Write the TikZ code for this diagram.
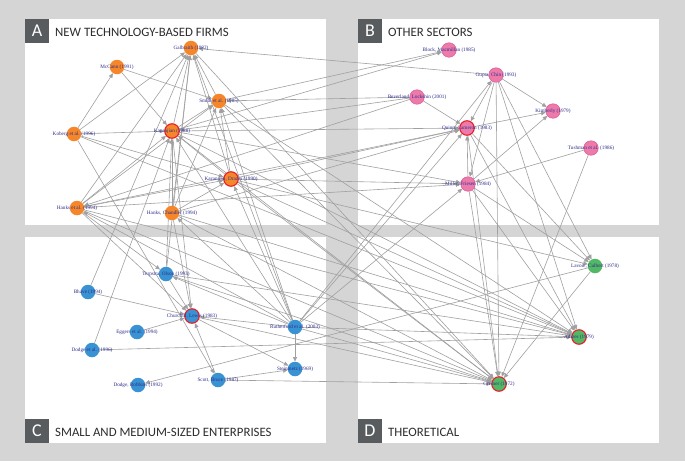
\documentclass[tikz,border=0pt]{standalone}
\usepackage{fontspec}
\setmainfont{Liberation Serif}
\newfontfamily\titlefont{Carlito}
\usetikzlibrary{arrows.meta, positioning}

\definecolor{bggray}{RGB}{212,213,212}
\definecolor{tagdark}{RGB}{88,92,94}
\definecolor{titlegray}{RGB}{45,45,45}
\definecolor{ntbforange}{RGB}{245,134,42}
\definecolor{otherpink}{RGB}{236,122,170}
\definecolor{pinkline}{RGB}{224,84,146}
\definecolor{smeblue}{RGB}{57,146,210}
\definecolor{theogreen}{RGB}{82,184,102}
\definecolor{keyred}{RGB}{232,30,40}
\definecolor{edgegray}{RGB}{160,160,160}
\definecolor{labelblue}{RGB}{45,45,140}

\pgfdeclarelayer{background}
\pgfdeclarelayer{edges}
\pgfsetlayers{background,edges,main}

\tikzset{
  paper/.style={circle, minimum size=14.5pt, inner sep=0pt},
  ntbf/.style={paper, fill=ntbforange},
  other/.style={paper, fill=otherpink, draw=pinkline, line width=0.5pt},
  sme/.style={paper, fill=smeblue},
  theo/.style={paper, fill=theogreen},
  keypaper/.style={draw=keyred, line width=1.1pt},
  lbl/.style={font=\fontsize{5.2}{6}\selectfont, text=labelblue, inner sep=0pt},
  cite/.style={draw=edgegray, line width=0.6pt, -{Triangle[length=4.5pt,width=4pt]}},
  tag/.style={fill=tagdark, text=white, minimum size=24pt, inner sep=0pt, font=\titlefont\fontsize{18}{18}\selectfont},
  paneltitle/.style={anchor=west, text=titlegray, inner sep=0pt, font=\titlefont\fontsize{12.8}{13}\selectfont}
}

\begin{document}
\begin{tikzpicture}[x=1pt, y=-1pt]
\useasboundingbox (0,0) rectangle (685,461);

\begin{pgfonlayer}{background}
\fill[bggray] (0,0) rectangle (685,461);
\fill[white] (25,19) rectangle (326,225);
\fill[white] (358,19) rectangle (659,225);
\fill[white] (25,237) rectangle (326,443);
\fill[white] (358,237) rectangle (659,443);
\end{pgfonlayer}

% panel headings
\node[tag] (tagA) at (37,31) {A};
\node[paneltitle] (titleA) at (55,32) {NEW TECHNOLOGY-BASED FIRMS};
\node[tag] (tagB) at (370,31) {B};
\node[paneltitle] (titleB) at (388,32) {OTHER SECTORS};
\node[tag] (tagC) at (37,431) {C};
\node[paneltitle] (titleC) at (55,432) {SMALL AND MEDIUM-SIZED ENTERPRISES};
\node[tag] (tagD) at (370,431) {D};
\node[paneltitle] (titleD) at (388,432) {THEORETICAL};

% A: new technology-based firms
\node[ntbf] (galb) at (191,48) {};
\node[ntbf] (mccann) at (117,67) {};
\node[ntbf] (smith) at (219,101) {};
\node[ntbf, keypaper] (kaz) at (172,131) {};
\node[ntbf] (koberg) at (74,134) {};
\node[ntbf, keypaper] (kazdr) at (231,179) {};
\node[ntbf] (hanks) at (77,208) {};
\node[ntbf] (hankch) at (172,213) {};

% B: other sectors
\node[other] (block) at (449,50) {};
\node[other] (gupta) at (496,75) {};
\node[other] (bever) at (417,97) {};
\node[other] (kimb) at (553,111) {};
\node[other, keypaper] (quinn) at (467,128) {};
\node[other] (tush) at (591,148) {};
\node[other] (miller) at (468,184) {};

% C: small and medium-sized enterprises
\node[sme] (terp) at (166,274) {};
\node[sme] (bhave) at (88,292) {};
\node[sme, keypaper] (church) at (192,316) {};
\node[sme] (eggers) at (137,332) {};
\node[sme] (ruth) at (295,327) {};
\node[sme] (dodgeA) at (92,350) {};
\node[sme] (stein) at (295,369) {};
\node[sme] (scott) at (218,380) {};
\node[sme] (dodgeB) at (138,385) {};

% D: theoretical
\node[theo] (lavoie) at (595,266) {};
\node[theo, keypaper] (adizes) at (579,337) {};
\node[theo, keypaper] (greiner) at (499,384) {};

% labels
\node[lbl] (galbt) at (galb) {Galbraith (1982)};
\node[lbl] (mccannt) at (mccann) {McCann (1991)};
\node[lbl] (smitht) at (smith) {Smith et al. (1985)};
\node[lbl] (kazt) at (kaz) {Kazanjian (1988)};
\node[lbl] (kobergt) at (koberg) {Koberg et al. (1996)};
\node[lbl] (kazdrt) at (kazdr) {Kazanjian, Drazin (1990)};
\node[lbl] (hankst) at (hanks) {Hanks et al. (1994)};
\node[lbl] (hankcht) at (hankch) {Hanks, Chandler (1994)};
\node[lbl] (blockt) at (block) {Block, Macmillan (1985)};
\node[lbl] (guptat) at (gupta) {Gupta, Chin (1993)};
\node[lbl] (bevert) at (bever) {Beverland, Lockshin (2001)};
\node[lbl] (kimbt) at (kimb) {Kimberly (1979)};
\node[lbl] (quinnt) at (quinn) {Quinn, Cameron (1983)};
\node[lbl] (tusht) at (tush) {Tushman et al. (1986)};
\node[lbl] (millert) at (miller) {Miller, Friesen (1984)};
\node[lbl] (terpt) at (terp) {Terpstra, Olson (1993)};
\node[lbl] (bhavet) at (bhave) {Bhave (1994)};
\node[lbl] (churcht) at (church) {Churchill, Lewis (1983)};
\node[lbl] (eggerst) at (eggers) {Eggers et al. (1994)};
\node[lbl] (rutht) at (ruth) {Rutherford et al. (2003)};
\node[lbl] (dodgeAt) at (dodgeA) {Dodge et al. (1996)};
\node[lbl] (steint) at (stein) {Steinmetz (1969)};
\node[lbl] (scottt) at (scott) {Scott, Bruce (1987)};
\node[lbl] (dodgeBt) at (dodgeB) {Dodge, Robbins (1992)};
\node[lbl] (lavoiet) at (lavoie) {Lavoie, Culbert (1978)};
\node[lbl] (adizest) at (adizes) {Adizes (1979)};
\node[lbl] (greinert) at (greiner) {Greiner (1972)};

\begin{pgfonlayer}{edges}
% citations from A
\draw[cite] (koberg) -- (mccann);
\draw[cite] (koberg) -- (galb);
\draw[cite] (koberg) -- (kaz);
\draw[cite] (koberg) -- (kazdr);
\draw[cite] (koberg) -- (scott);
\draw[cite] (koberg) -- (adizes);
\draw[cite] (mccann) -- (kaz);
\draw[cite] (mccann) -- (smith);
\draw[cite] (galb) -- (greiner);
\draw[cite] (smith) -- (galb);
\draw[cite] (smith) -- (block);
\draw[cite] (smith) -- (adizes);
\draw[cite] (smith) -- (greiner);
\draw[cite] (kaz) -- (galb);
\draw[cite] (kaz) -- (smith);
\draw[cite] (kaz) -- (quinn);
\draw[cite] (kaz) -- (block);
\draw[cite] (kaz) -- (miller);
\draw[cite] (kaz) -- (church);
\draw[cite] (kaz) -- (adizes);
\draw[cite] (kaz) -- (greiner);
\draw[cite] (kazdr) -- (kaz);
\draw[cite] (kazdr) -- (galb);
\draw[cite] (kazdr) -- (smith);
\draw[cite] (kazdr) -- (quinn);
\draw[cite] (kazdr) -- (miller);
\draw[cite] (kazdr) -- (adizes);
\draw[cite] (kazdr) -- (greiner);
\draw[cite] (kazdr) -- (lavoie);
\draw[cite] (hanks) -- (galb);
\draw[cite] (hanks) -- (kaz);
\draw[cite] (hanks) -- (smith);
\draw[cite] (hanks) -- (kazdr);
\draw[cite] (hanks) -- (quinn);
\draw[cite] (hanks) -- (miller);
\draw[cite] (hanks) -- (terp);
\draw[cite] (hanks) -- (church);
\draw[cite] (hanks) -- (adizes);
\draw[cite] (hanks) -- (greiner);
\draw[cite] (hankch) -- (kaz);
\draw[cite] (hankch) -- (galb);
\draw[cite] (hankch) -- (smith);
\draw[cite] (hankch) -- (kazdr);
\draw[cite] (hankch) -- (quinn);
\draw[cite] (hankch) -- (church);
\draw[cite] (hankch) -- (adizes);
\draw[cite] (hankch) -- (greiner);
% citations from B
\draw[cite] (gupta) -- (galb);
\draw[cite] (gupta) -- (quinn);
\draw[cite] (gupta) -- (kimb);
\draw[cite] (gupta) -- (miller);
\draw[cite] (gupta) -- (adizes);
\draw[cite] (gupta) -- (greiner);
\draw[cite] (gupta) -- (lavoie);
\draw[cite] (bever) -- (quinn);
\draw[cite] (bever) -- (kaz);
\draw[cite] (bever) -- (smith);
\draw[cite] (bever) -- (hanks);
\draw[cite] (quinn) -- (kimb);
\draw[cite] (quinn) -- (lavoie);
\draw[cite] (quinn) -- (adizes);
\draw[cite] (quinn) -- (greiner);
\draw[cite] (tush) -- (miller);
\draw[cite] (tush) -- (greiner);
\draw[cite] (miller) -- (quinn);
\draw[cite] (miller) -- (kimb);
\draw[cite] (miller) -- (lavoie);
\draw[cite] (miller) -- (adizes);
\draw[cite] (miller) -- (greiner);
% citations from C
\draw[cite] (terp) -- (galb);
\draw[cite] (terp) -- (kaz);
\draw[cite] (terp) -- (church);
\draw[cite] (terp) -- (adizes);
\draw[cite] (terp) -- (greiner);
\draw[cite] (bhave) -- (galb);
\draw[cite] (bhave) -- (church);
\draw[cite] (church) -- (stein);
\draw[cite] (church) -- (greiner);
\draw[cite] (eggers) -- (church);
\draw[cite] (ruth) -- (terp);
\draw[cite] (ruth) -- (church);
\draw[cite] (ruth) -- (stein);
\draw[cite] (ruth) -- (gupta);
\draw[cite] (ruth) -- (quinn);
\draw[cite] (ruth) -- (miller);
\draw[cite] (ruth) -- (kaz);
\draw[cite] (ruth) -- (galb);
\draw[cite] (ruth) -- (smith);
\draw[cite] (ruth) -- (kazdr);
\draw[cite] (ruth) -- (hanks);
\draw[cite] (ruth) -- (hankch);
\draw[cite] (ruth) -- (adizes);
\draw[cite] (ruth) -- (greiner);
\draw[cite] (dodgeA) -- (kaz);
\draw[cite] (dodgeA) -- (adizes);
\draw[cite] (scott) -- (church);
\draw[cite] (scott) -- (stein);
\draw[cite] (scott) -- (greiner);
% citations from D
\draw[cite] (lavoie) -- (greiner);
\draw[cite] (lavoie) -- (dodgeB);
\end{pgfonlayer}

\end{tikzpicture}
\end{document}
